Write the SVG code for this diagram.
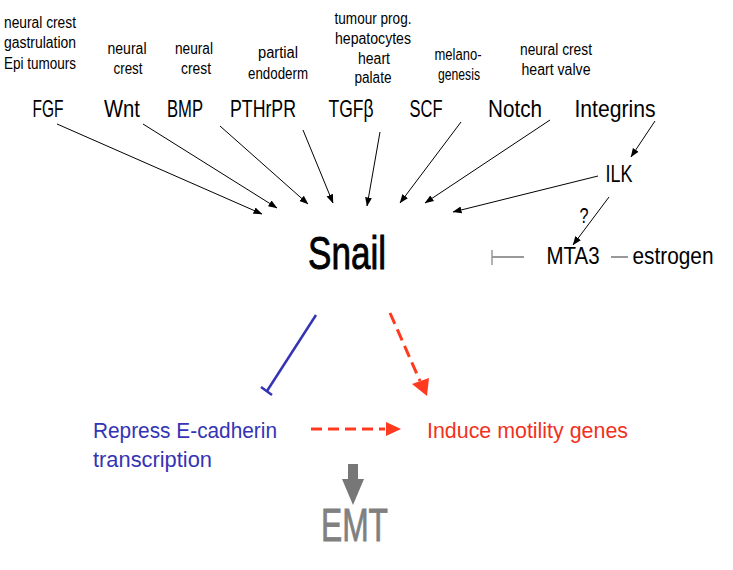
<svg xmlns="http://www.w3.org/2000/svg" width="733" height="570" viewBox="0 0 733 570">
<style>
text{font-family:"Liberation Sans",Arial,sans-serif;fill:#000}
.s{font-size:16px;text-anchor:middle}
.m{font-size:24px;text-anchor:middle}
.c line{stroke:#000;stroke-width:1}
</style>
<defs>
<marker id="ah" viewBox="0 0 10 10" refX="9.5" refY="5" markerWidth="9" markerHeight="9" markerUnits="userSpaceOnUse" orient="auto"><path d="M0,1.2 L10,5 L0,8.8 Z" fill="#000"/></marker>
</defs>
<rect width="733" height="570" fill="#fff"/>
<g id="fgf"><text class="s" x="40" y="28" textLength="72" lengthAdjust="spacingAndGlyphs">neural crest</text><text class="s" x="40" y="48" textLength="72" lengthAdjust="spacingAndGlyphs">gastrulation</text><text class="s" x="40" y="69" textLength="72" lengthAdjust="spacingAndGlyphs">Epi tumours</text><text class="m" x="48" y="117" textLength="31" lengthAdjust="spacingAndGlyphs">FGF</text></g>
<g id="wnt"><text class="s" x="127" y="54" textLength="39" lengthAdjust="spacingAndGlyphs">neural</text><text class="s" x="128" y="74" textLength="29" lengthAdjust="spacingAndGlyphs">crest</text><text class="m" x="122" y="117" textLength="36" lengthAdjust="spacingAndGlyphs">Wnt</text></g>
<g id="bmp"><text class="s" x="194" y="54" textLength="38" lengthAdjust="spacingAndGlyphs">neural</text><text class="s" x="196" y="74" textLength="30" lengthAdjust="spacingAndGlyphs">crest</text><text class="m" x="185" y="117" textLength="36" lengthAdjust="spacingAndGlyphs">BMP</text></g>
<g id="pthrpr"><text class="s" x="278" y="58" textLength="40" lengthAdjust="spacingAndGlyphs">partial</text><text class="s" x="278" y="79" textLength="60" lengthAdjust="spacingAndGlyphs">endoderm</text><text class="m" x="263" y="117" textLength="66" lengthAdjust="spacingAndGlyphs">PTHrPR</text></g>
<g id="tgfb"><text class="s" x="373" y="24" textLength="77" lengthAdjust="spacingAndGlyphs">tumour prog.</text><text class="s" x="373" y="44" textLength="76" lengthAdjust="spacingAndGlyphs">hepatocytes</text><text class="s" x="374" y="64" textLength="32" lengthAdjust="spacingAndGlyphs">heart</text><text class="s" x="373" y="83" textLength="37" lengthAdjust="spacingAndGlyphs">palate</text><text class="m" x="351" y="117" textLength="45" lengthAdjust="spacingAndGlyphs">TGFβ</text></g>
<g id="scf"><text class="s" x="458" y="60" textLength="47" lengthAdjust="spacingAndGlyphs">melano-</text><text class="s" x="459" y="80" textLength="42" lengthAdjust="spacingAndGlyphs">genesis</text><text class="m" x="426" y="117" textLength="33" lengthAdjust="spacingAndGlyphs">SCF</text></g>
<g id="notch"><text class="s" x="556" y="55" textLength="72" lengthAdjust="spacingAndGlyphs">neural crest</text><text class="s" x="556" y="75" textLength="69" lengthAdjust="spacingAndGlyphs">heart valve</text><text class="m" x="515" y="117" textLength="54" lengthAdjust="spacingAndGlyphs">Notch</text></g>
<g id="integrins"><text class="m" x="615" y="117" textLength="81" lengthAdjust="spacingAndGlyphs">Integrins</text></g>
<g id="ilk"><text class="m" x="619" y="182" textLength="27" lengthAdjust="spacingAndGlyphs">ILK</text></g>
<g id="snail"><text x="347" y="269" style="font-size:47px;text-anchor:middle;stroke:#000;stroke-width:0.9" textLength="78" lengthAdjust="spacingAndGlyphs">Snail</text></g>
<g id="mta3"><text class="m" x="573" y="264" textLength="53" lengthAdjust="spacingAndGlyphs">MTA3</text></g>
<g id="estrogen"><text class="m" x="673" y="264" textLength="81" lengthAdjust="spacingAndGlyphs">estrogen</text></g>
<g id="repress"><text x="93" y="438" style="font-size:22px;fill:#3434b4" textLength="184" lengthAdjust="spacingAndGlyphs">Repress E-cadherin</text><text x="93" y="467" style="font-size:22px;fill:#3434b4" textLength="119" lengthAdjust="spacingAndGlyphs">transcription</text></g>
<g id="motility"><text x="427" y="438" style="font-size:22px;fill:#f0321e" textLength="201" lengthAdjust="spacingAndGlyphs">Induce motility genes</text></g>
<g id="emt"><text x="354.5" y="541" style="font-size:46px;text-anchor:middle;fill:#808080;stroke:#808080;stroke-width:0.8" textLength="67" lengthAdjust="spacingAndGlyphs">EMT</text></g>
<g id="connectors">
<g class="c">
<line x1="57" y1="124" x2="262" y2="214" marker-end="url(#ah)"/>
<line x1="143" y1="124" x2="277" y2="208" marker-end="url(#ah)"/>
<line x1="220" y1="126" x2="308" y2="204" marker-end="url(#ah)"/>
<line x1="303" y1="130" x2="333" y2="203" marker-end="url(#ah)"/>
<line x1="380" y1="132" x2="367" y2="206" marker-end="url(#ah)"/>
<line x1="461" y1="122" x2="400" y2="203" marker-end="url(#ah)"/>
<line x1="550" y1="120" x2="425" y2="203" marker-end="url(#ah)"/>
<line x1="655" y1="121" x2="631" y2="157" marker-end="url(#ah)"/>
<line x1="598" y1="176" x2="453" y2="212" marker-end="url(#ah)"/>
<line x1="609" y1="197" x2="573" y2="245" marker-end="url(#ah)"/>
</g>
<text x="584" y="223" style="font-size:22px;text-anchor:middle" textLength="9" lengthAdjust="spacingAndGlyphs">?</text>
<g stroke="#999" stroke-width="2"><line x1="492" y1="257" x2="524" y2="257"/><line x1="492" y1="250" x2="492" y2="265" stroke-width="1.5"/><line x1="611" y1="257" x2="628" y2="257"/></g>
<line x1="316" y1="315" x2="267" y2="391" stroke="#3434b4" stroke-width="2.5"/>
<line x1="261" y1="387" x2="272" y2="395" stroke="#3434b4" stroke-width="2.5"/>
<line x1="390" y1="313" x2="420" y2="381" stroke="#ff3a1e" stroke-width="3" stroke-dasharray="12 6"/>
<path d="M412,384 L429,378 L427,396 Z" fill="#ff3a1e"/>
<line x1="311" y1="429" x2="385" y2="429" stroke="#ff3a1e" stroke-width="3" stroke-dasharray="11 6"/>
<path d="M386,422 L401,429 L386,436 Z" fill="#ff3a1e"/>
<path d="M348,464 H358 V479 H364 L353,505 L342,479 H348 Z" fill="#777"/>
</g>
</svg>
